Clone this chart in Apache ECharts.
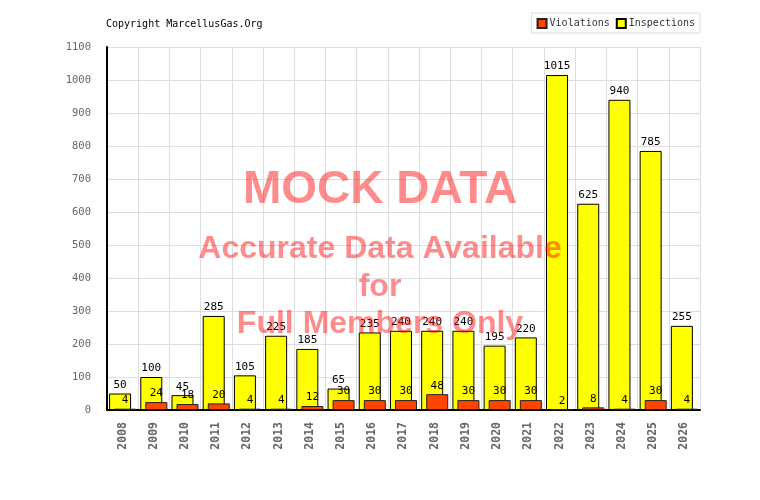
<!DOCTYPE html>
<html><head><meta charset="utf-8">
<script src="https://cdn.jsdelivr.net/npm/echarts@6/dist/echarts.min.js"></script>
<style>html,body{margin:0;padding:0;background:#fff}#c{width:760px;height:500px}</style>
</head><body><div id="c"></div>
<script>
var years = ['2008','2009','2010','2011','2012','2013','2014','2015','2016','2017','2018','2019','2020','2021','2022','2023','2024','2025','2026'];
var inspections = [50,100,45,285,105,225,185,65,235,240,240,240,195,220,1015,625,940,785,255];
var violations = [4,24,18,20,4,4,12,30,30,30,48,30,30,30,2,8,4,30,4];
var yTicks = {min:0, max:1100, interval:100};

var mono = '"DejaVu Sans Mono", "Liberation Mono", monospace';
var chart = echarts.init(document.getElementById('c'), null, {renderer:'canvas'});
var wm = 'rgba(255,0,0,0.45)';
chart.setOption({
  animation:false,
  backgroundColor:'#fff',
  title:{text:'Copyright MarcellusGas.Org', left:101, top:14, textStyle:{fontFamily:mono, fontSize:10, fontWeight:'normal', color:'#000'}},
  legend:{data:['Violations','Inspections'], right:60, top:13, itemWidth:9, itemHeight:9, itemGap:6, padding:[5,5,4,5],
    borderColor:'#ddd', borderWidth:1, textStyle:{fontFamily:mono, fontSize:10, color:'#333', padding:[0,0,0,-2]}, icon:'rect'},
  grid:{left:107, right:60, top:47, bottom:90},
  xAxis:{type:'category', data:years,
    axisLine:{lineStyle:{color:'#000', width:2}}, axisTick:{show:false},
    splitLine:{show:true, lineStyle:{color:'#ddd'}},
    axisLabel:{rotate:90, fontFamily:mono, fontSize:11.5, fontWeight:'bold', color:'#666', margin:12}},
  yAxis:{type:'value', min:yTicks.min, max:yTicks.max, interval:yTicks.interval,
    axisLine:{show:true, lineStyle:{color:'#000', width:2}}, axisTick:{show:false},
    splitLine:{lineStyle:{color:'#ddd'}},
    axisLabel:{fontFamily:mono, fontSize:10.5, color:'#666', margin:16, formatter:function(v){return String(v);}}},
  series:[
    {name:'Inspections', type:'bar', data:inspections, barWidth:22, barGap:'-77%',
      itemStyle:{color:'#ffff00', borderColor:'#000', borderWidth:1},
      label:{show:true, position:'top', distance:3, fontFamily:mono, fontSize:11, color:'#000'}},
    {name:'Violations', type:'bar', data:violations, barWidth:22,
      itemStyle:{color:'#ff4400', borderColor:'#222', borderWidth:1},
      label:{show:true, position:'top', distance:3, fontFamily:mono, fontSize:11, color:'#000'}}
  ],
  graphic:[
    {type:'text', left:'center', top:167, z:100, style:{text:'MOCK DATA', fill:wm, font:'bold 46px "Liberation Sans", Arial, sans-serif'}},
    {type:'text', left:'center', top:233, z:100, style:{text:'Accurate Data Available', fill:wm, font:'bold 32px "Liberation Sans", Arial, sans-serif'}},
    {type:'text', left:'center', top:271, z:100, style:{text:'for', fill:wm, font:'bold 32px "Liberation Sans", Arial, sans-serif'}},
    {type:'text', left:'center', top:308, z:100, style:{text:'Full Members Only', fill:wm, font:'bold 32px "Liberation Sans", Arial, sans-serif'}}
  ]
});
</script></body></html>
